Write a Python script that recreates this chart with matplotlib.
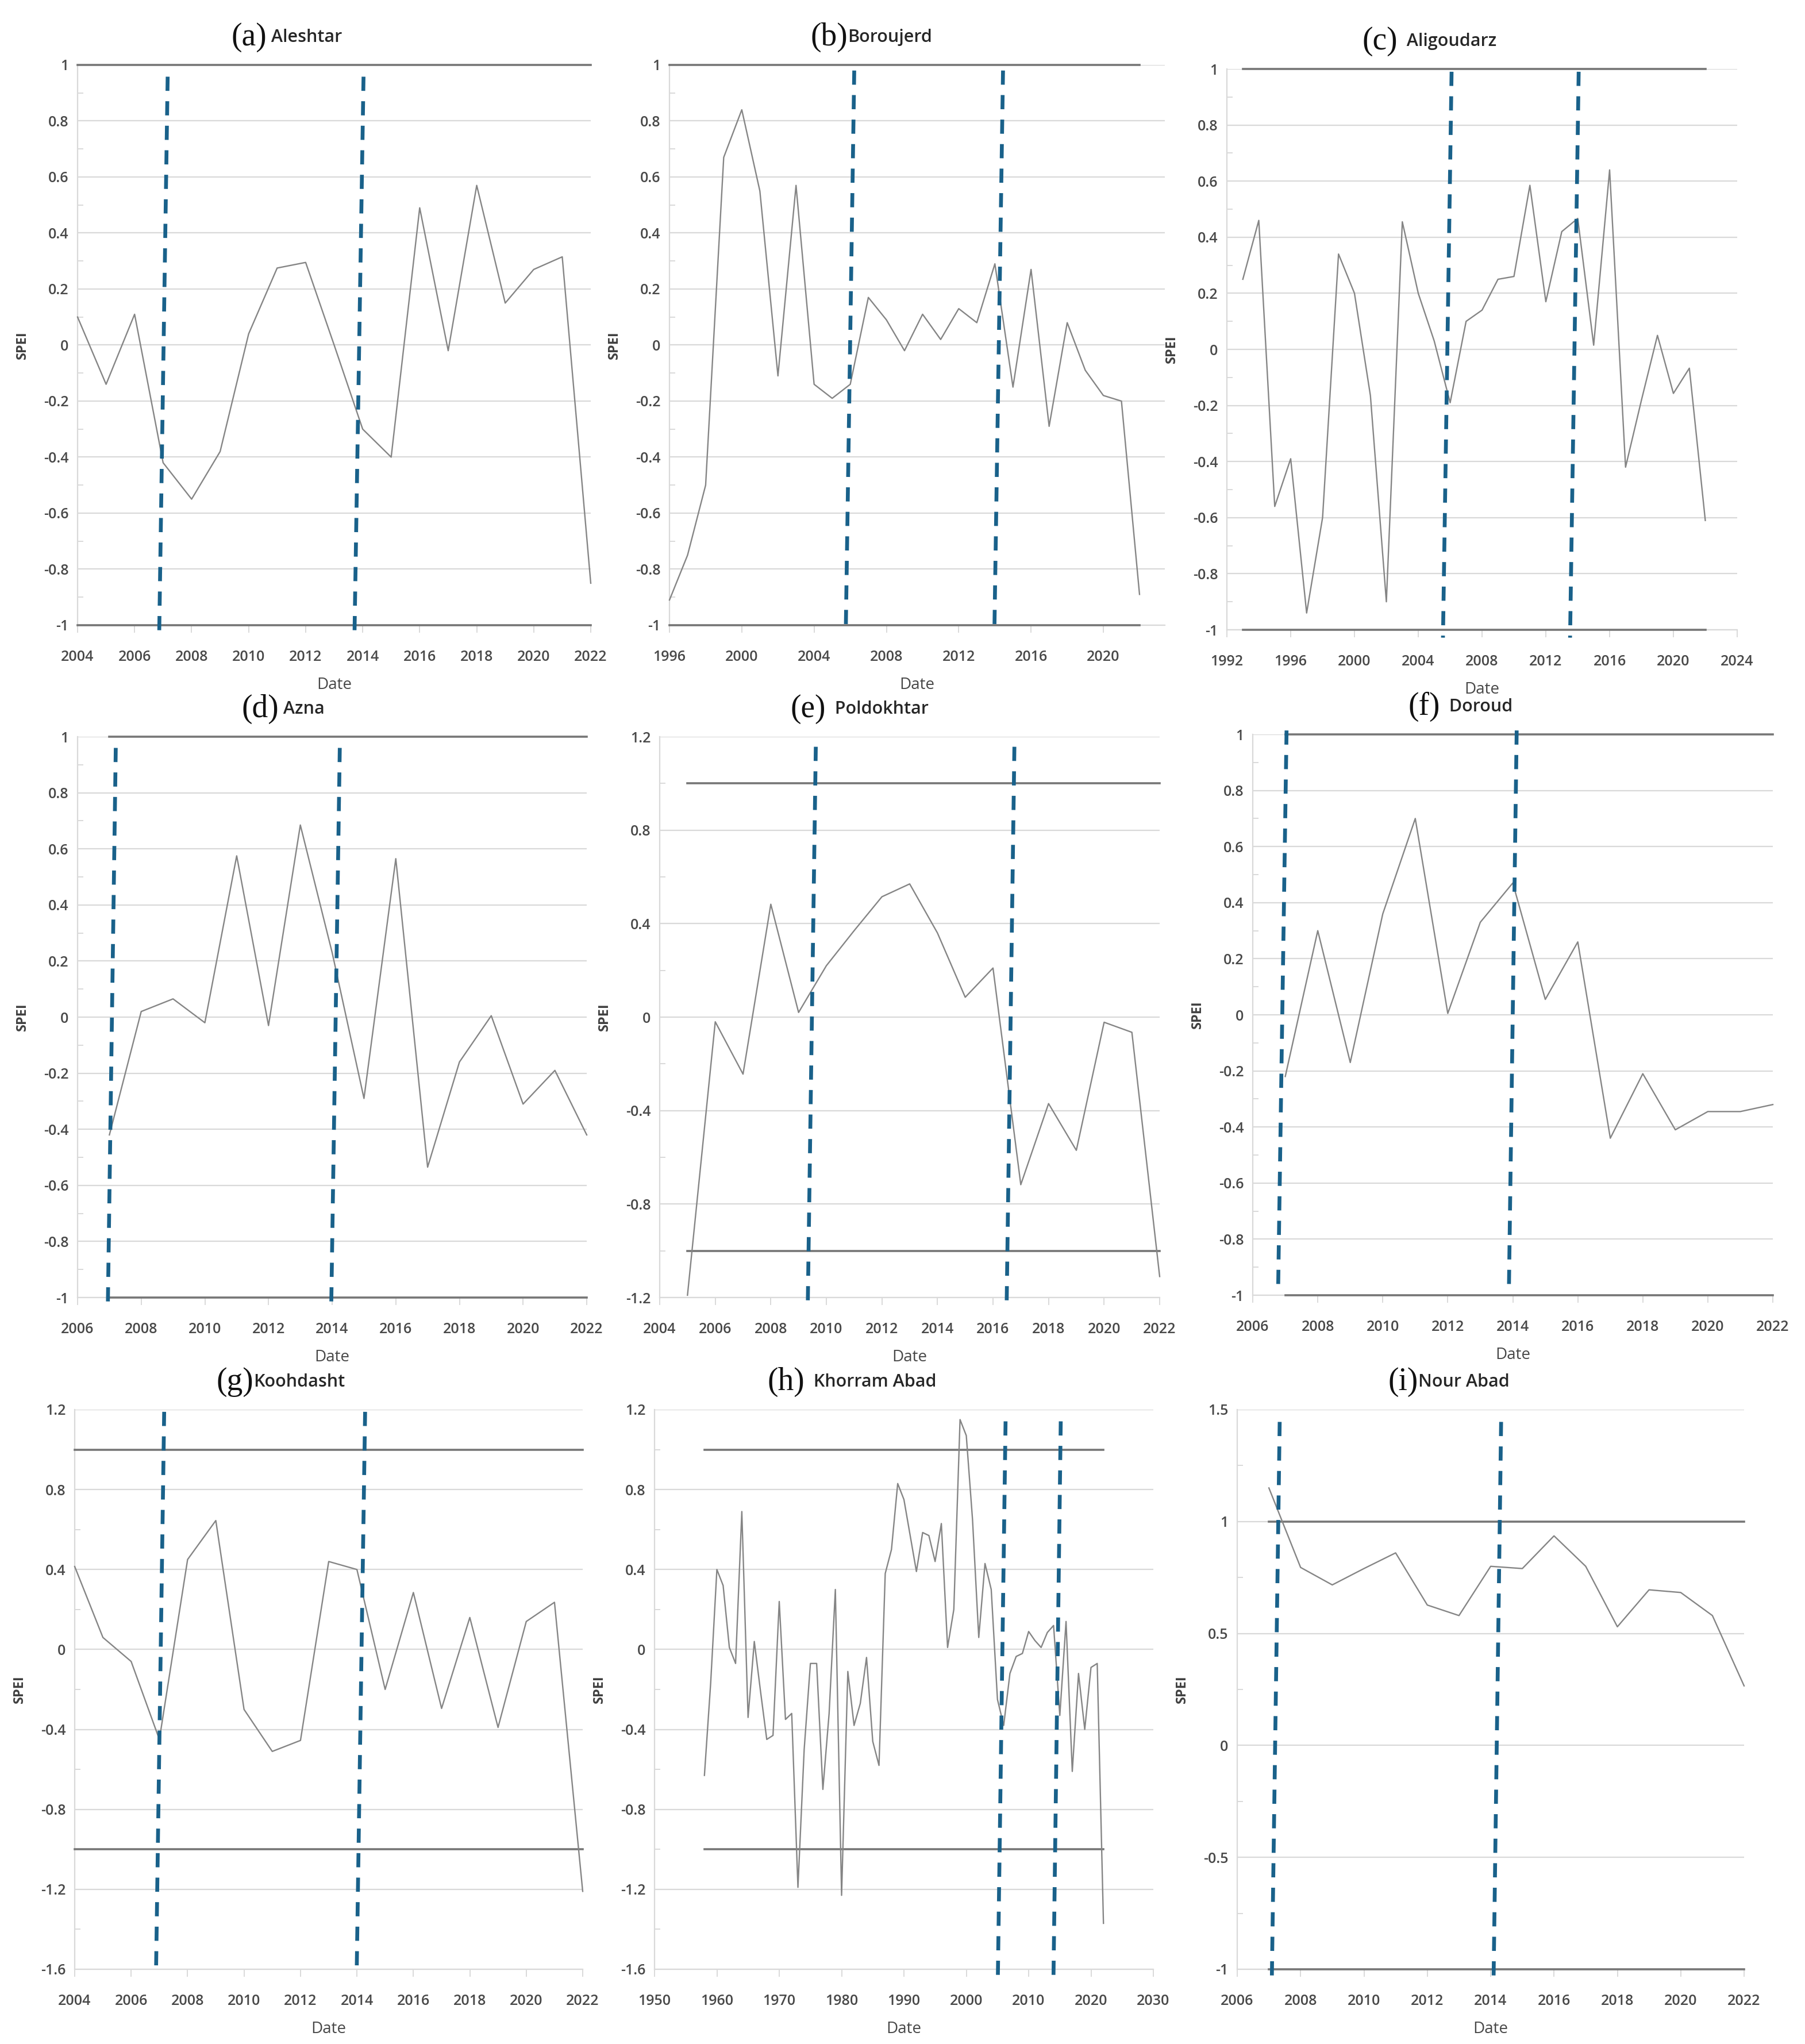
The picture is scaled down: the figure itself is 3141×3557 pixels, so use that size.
import matplotlib
matplotlib.use('Agg')
import matplotlib.pyplot as plt
import matplotlib.transforms as mtransforms
from matplotlib.ticker import MultipleLocator, FuncFormatter
import numpy as np

plt.rcParams['font.family'] = ['Open Sans', 'DejaVu Sans']
plt.rcParams['axes.unicode_minus'] = False

# ---- data (annual SPEI per station) ----
years_a = list(range(2004, 2023))
spei_a = [0.10, -0.14, 0.11, -0.42, -0.55, -0.38, 0.04, 0.275, 0.295, 0.0,
          -0.30, -0.40, 0.49, -0.02, 0.57, 0.15, 0.27, 0.315, -0.85]

years_b = list(range(1996, 2023))
spei_b = [-0.91, -0.75, -0.50, 0.67, 0.84, 0.55, -0.11, 0.57, -0.14, -0.19,
          -0.14, 0.17, 0.09, -0.02, 0.11, 0.02, 0.13, 0.08, 0.29, -0.15,
          0.27, -0.29, 0.08, -0.09, -0.18, -0.20, -0.89]

years_c = list(range(1993, 2023))
spei_c = [0.25, 0.46, -0.56, -0.39, -0.94, -0.60, 0.34, 0.20, -0.165, -0.90,
          0.455, 0.20, 0.03, -0.19, 0.10, 0.14, 0.25, 0.26, 0.585, 0.17,
          0.42, 0.467, 0.015, 0.64, -0.42, -0.18, 0.05, -0.157, -0.067, -0.61]

years_d = list(range(2007, 2023))
spei_d = [-0.42, 0.02, 0.065, -0.02, 0.575, -0.03, 0.685, 0.23, -0.29, 0.565,
          -0.535, -0.16, 0.005, -0.31, -0.19, -0.42]

years_e = list(range(2005, 2023))
spei_e = [-1.19, -0.02, -0.244, 0.483, 0.02, 0.22, 0.37, 0.515, 0.57, 0.36,
          0.085, 0.21, -0.717, -0.37, -0.57, -0.022, -0.065, -1.11]

years_f = list(range(2007, 2023))
spei_f = [-0.22, 0.30, -0.17, 0.36, 0.70, 0.005, 0.33, 0.47, 0.055, 0.26,
          -0.44, -0.21, -0.41, -0.345, -0.345, -0.32]

years_g = list(range(2004, 2023))
spei_g = [0.415, 0.06, -0.06, -0.45, 0.45, 0.645, -0.30, -0.51, -0.455, 0.44,
          0.40, -0.20, 0.285, -0.295, 0.16, -0.39, 0.14, 0.236, -1.21]

years_h = list(range(1958, 2023))
spei_h = [-0.63, -0.17, 0.40, 0.32, 0.01, -0.07, 0.69, -0.34, 0.04, -0.21,
          -0.45, -0.43, 0.24, -0.35, -0.32, -1.19, -0.50, -0.07, -0.07, -0.70,
          -0.32, 0.30, -1.23, -0.11, -0.38, -0.27, -0.04, -0.46, -0.58, 0.38,
          0.50, 0.83, 0.75, 0.57, 0.39, 0.585, 0.57, 0.44, 0.63, 0.01,
          0.20, 1.15, 1.07, 0.65, 0.06, 0.43, 0.30, -0.25, -0.38, -0.12,
          -0.035, -0.02, 0.09, 0.045, 0.01, 0.085, 0.12, -0.33, 0.14, -0.61,
          -0.12, -0.40, -0.09, -0.07, -1.37]

years_i = list(range(2007, 2023))
spei_i = [1.15, 0.795, 0.717, 0.79, 0.86, 0.627, 0.58, 0.80, 0.79, 0.936,
          0.80, 0.53, 0.695, 0.683, 0.58, 0.266]

# change-point lines (x at top, x at bottom) as drawn in the figure
breaks_a = [(2007.16, 2006.86), (2014.03, 2013.71)]
breaks_b = [(2006.22, 2005.75), (2014.45, 2013.97)]
breaks_c = [(2006.09, 2005.55), (2014.06, 2013.52)]
breaks_d = [(2007.20, 2006.95), (2014.24, 2013.97)]
breaks_e = [(2009.62, 2009.33), (2016.77, 2016.49)]
breaks_f = [(2007.04, 2006.78), (2014.12, 2013.88)]
breaks_g = [(2007.17, 2006.88), (2014.29, 2013.99)]
breaks_h = [(2006.30, 2005.05), (2015.15, 2013.97)]
breaks_i = [(2007.34, 2007.09), (2014.33, 2014.09)]

letters = ['a', 'b', 'c', 'd', 'e', 'f', 'g', 'h', 'i']
stations = ['Aleshtar', 'Boroujerd', 'Aligoudarz', 'Azna', 'Poldokhtar',
            'Doroud', 'Koohdasht', 'Khorram Abad', 'Nour Abad']

W, H = 3141, 3557
fig = plt.figure(figsize=(W / 100, H / 100), dpi=100)

# layout: axes box in pixels (left, top, right, bottom)
panels = [
    dict(x=years_a, y=spei_a, br=breaks_a, box=(135, 113, 1028, 1088), xlim=(2004, 2022), xs=2, ylim=(-1, 1), ys=0.2, tx=0.299, gap=' ', by=(0.979, -0.026)),
    dict(x=years_b, y=spei_b, br=breaks_b, box=(1165, 113, 2027, 1088), xlim=(1996, 2023.4), xs=4, ylim=(-1, 1), ys=0.2, tx=0.285, gap='', by=(0.99, -0.015)),
    dict(x=years_c, y=spei_c, br=breaks_c, box=(2135, 120, 3023, 1096), xlim=(1992, 2024), xs=4, ylim=(-1, 1), ys=0.2, tx=0.265, gap='  ', by=(0.995, -0.014)),
    dict(x=years_d, y=spei_d, br=breaks_d, box=(135, 1282, 1021, 2258), xlim=(2006, 2022), xs=2, ylim=(-1, 1), ys=0.2, tx=0.322, gap=' ', by=(0.98, -0.02)),
    dict(x=years_e, y=spei_e, br=breaks_e, box=(1148, 1282, 2018, 2258), xlim=(2004, 2022), xs=2, ylim=(-1.2, 1.2), ys=0.4, tx=0.262, gap='  ', by=(0.982, -0.017)),
    dict(x=years_f, y=spei_f, br=breaks_f, box=(2180, 1278, 3085, 2254), xlim=(2006, 2022), xs=2, ylim=(-1, 1), ys=0.2, tx=0.299, gap='  ', by=(1.007, 0.007)),
    dict(x=years_g, y=spei_g, br=breaks_g, box=(130, 2453, 1014, 3427), xlim=(2004, 2022), xs=2, ylim=(-1.6, 1.2), ys=0.4, tx=0.279, gap='', by=(0.996, -0.011)),
    dict(x=years_h, y=spei_h, br=breaks_h, box=(1139, 2453, 2007, 3427), xlim=(1950, 2030), xs=10, ylim=(-1.6, 1.2), ys=0.4, tx=0.226, gap='  ', by=(0.979, -0.025)),
    dict(x=years_i, y=spei_i, br=breaks_i, box=(2153, 2453, 3035, 3427), xlim=(2006, 2022), xs=2, ylim=(-1, 1.5), ys=0.5, tx=0.298, gap='', by=(0.978, -0.026)),
]

grid_c = '#d9d9d9'
text_c = '#484848'
fmt = FuncFormatter(lambda v, p: ('%g' % round(v, 2)))

for k, p in enumerate(panels):
    l, t, r, b = p['box']
    wpx, hpx = r - l, b - t
    ax = fig.add_axes([l / W, 1 - b / H, wpx / W, hpx / H])
    ax.set_xlim(*p['xlim'])
    ax.set_ylim(*p['ylim'])

    ax.xaxis.set_major_locator(MultipleLocator(p['xs']))
    ax.yaxis.set_major_locator(MultipleLocator(p['ys']))
    ax.yaxis.set_minor_locator(MultipleLocator(p['ys'] / 2))
    ax.yaxis.set_major_formatter(fmt)
    ax.xaxis.set_major_formatter(FuncFormatter(lambda v, pos: '%d' % v))

    ax.yaxis.grid(True, color=grid_c, lw=1.6, zorder=0)
    ax.set_axisbelow(True)
    for s in ['top', 'right']:
        ax.spines[s].set_visible(False)
    for s in ['left', 'bottom']:
        ax.spines[s].set_color(grid_c)
        ax.spines[s].set_linewidth(1.6)
    ax.tick_params(axis='x', which='major', direction='out', length=9, width=1.4,
                   color=grid_c, labelsize=18, labelcolor=text_c, pad=22)
    ax.tick_params(axis='y', which='major', direction='out', length=0, width=1.4,
                   color=grid_c, labelsize=18, labelcolor=text_c, pad=11)
    ax.tick_params(axis='y', which='minor', direction='in', length=7, width=1.4, color=grid_c)
    for lbl in ax.get_xticklabels() + ax.get_yticklabels():
        lbl.set_fontweight('semibold')

    yrs = np.array(p['x'])
    ax.plot(yrs, np.full(len(yrs), 1.0), color='#767676', lw=2.6, zorder=3, clip_on=False)
    ax.plot(yrs, np.full(len(yrs), -1.0), color='#767676', lw=2.6, zorder=3, clip_on=False)
    ax.plot(yrs, p['y'], color='#858585', lw=1.7, zorder=4, clip_on=False)

    trans = mtransforms.blended_transform_factory(ax.transData, ax.transAxes)
    for xt, xb in p['br']:
        ax.plot([xt, xb], [p['by'][0], p['by'][1]], transform=trans, color='#19618a',
                lw=4.8, dashes=(3.7, 2.7), zorder=5, clip_on=False)

    ax.set_xlabel('Date', fontsize=20, color=text_c)
    ax.xaxis.set_label_coords(0.5, -90 / hpx)
    ax.set_ylabel('SPEI', fontsize=17, color='#404040', fontweight='bold')
    ax.yaxis.set_label_coords(-84 / wpx, 0.5)

    ty = 1 + 48 / hpx
    lab = ax.text(p['tx'], ty, '(%s)' % letters[k], transform=ax.transAxes,
                  family=['Liberation Serif', 'DejaVu Serif'], fontsize=40,
                  ha='left', va='center', color='#111111')
    ax.annotate(p['gap'] + stations[k], xy=(1, 0.22), xycoords=lab,
                ha='left', va='bottom', fontsize=22, color='#262626',
                fontweight='semibold')

fig.savefig('out.png', dpi=100)
